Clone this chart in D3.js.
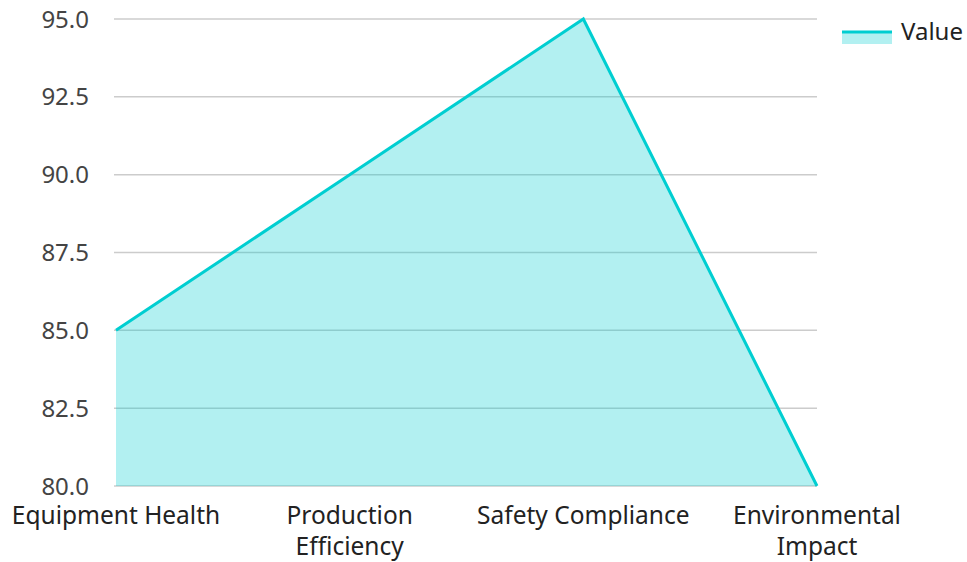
<!DOCTYPE html>
<html><head><meta charset="utf-8">
<script src="https://cdn.jsdelivr.net/npm/d3@7"></script>
<style>body{margin:0;background:#fff;} svg{display:block;}</style>
</head><body>
<svg id="c" width="967" height="562"></svg>
<script>
const categories = ["Equipment Health", "Production Efficiency", "Safety Compliance", "Environmental Impact"];
const categoryLines = [["Equipment Health"], ["Production", "Efficiency"], ["Safety Compliance"], ["Environmental", "Impact"]];
const values = [85, 90, 95, 80];
const yTicks = [80, 82.5, 85, 87.5, 90, 92.5, 95];
const seriesName = "Value";

const svg = d3.select("#c");
const font = "'Noto Sans', 'Open Sans', sans-serif";
const x = d3.scalePoint().domain(categories).range([116, 817]);
const y = d3.scaleLinear().domain([80, 95]).range([486, 19]);
const color = "#00CED1";

// grid
svg.append("g").selectAll("line").data(yTicks).join("line")
  .attr("x1", 114).attr("x2", 817)
  .attr("y1", d => y(d)).attr("y2", d => y(d))
  .attr("stroke", "#cccccc").attr("stroke-width", 1.5);

// y labels
svg.append("g").selectAll("text").data(yTicks).join("text")
  .attr("x", 89).attr("y", d => y(d)).attr("dy", "0.36em")
  .attr("text-anchor", "end").attr("font-family", font).attr("font-size", 24)
  .attr("fill", "#444").text(d => d.toFixed(1));

// area
const area = d3.area().x((d, i) => x(categories[i])).y0(y(80)).y1(d => y(d));
svg.append("path").datum(values).attr("d", area)
  .attr("fill", color).attr("fill-opacity", 0.3);
const line = d3.line().x((d, i) => x(categories[i])).y(d => y(d));
svg.append("path").datum(values).attr("d", line)
  .attr("fill", "none").attr("stroke", color).attr("stroke-width", 3);

// x labels
const xl = svg.append("g").selectAll("text").data(categories).join("text")
  .attr("x", d => x(d)).attr("y", 524)
  .attr("text-anchor", "middle").attr("font-family", font).attr("font-size", 24.5)
  .attr("fill", "#222");
xl.each(function(d, i) {
  const t = d3.select(this);
  categoryLines[i].forEach((s, j) => {
    t.append("tspan").attr("x", x(d)).attr("y", 524 + j * 31).text(s);
  });
});

// legend
const lg = svg.append("g");
lg.append("rect").attr("x", 842).attr("y", 33).attr("width", 50).attr("height", 11)
  .attr("fill", color).attr("fill-opacity", 0.3);
lg.append("line").attr("x1", 842).attr("x2", 892).attr("y1", 32).attr("y2", 32)
  .attr("stroke", color).attr("stroke-width", 3);
lg.append("text").attr("x", 901).attr("y", 32).attr("dy", "0.35em")
  .attr("font-family", font).attr("font-size", 24).attr("fill", "#222").text(seriesName);
</script>
</body></html>
